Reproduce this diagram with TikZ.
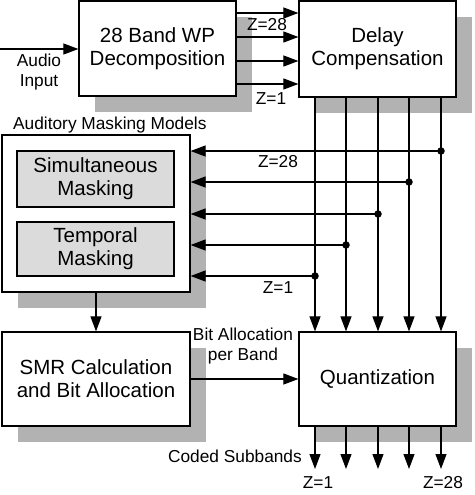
\documentclass[tikz,border=0pt]{standalone}
\usepackage{fontspec}
\setmainfont{Liberation Sans}
\usetikzlibrary{arrows.meta,shadows,calc}
\definecolor{shadowgray}{gray}{0.70}
\definecolor{innergray}{gray}{0.86}
\begin{document}
\begin{tikzpicture}[x=1pt,y=-1pt,
  box/.style={draw,line width=1.2pt,fill=white,align=center,inner sep=0pt,
    font=\fontsize{20.5}{23}\selectfont,
    drop shadow={shadow xshift=16pt,shadow yshift=-16pt,fill=shadowgray,opacity=1}},
  innerbox/.style={draw,line width=1.2pt,fill=innergray,align=center,inner sep=0pt,
    font=\fontsize{20.5}{23}\selectfont},
  lbl/.style={inner sep=0pt,align=center,font=\fontsize{17.3}{20}\selectfont},
  arr/.style={-{Triangle[length=15pt,width=11pt]},line width=1.1pt,draw=black,fill=black},
  dot/.style={circle,fill=black,inner sep=0pt,minimum size=7.5pt}]
\useasboundingbox (0,0) rectangle (474,495);
% boxes
\node[box,minimum width=157pt,minimum height=95pt] (wp) at (157.5,48.5) {28 Band WP\\Decomposition};
\node[box,minimum width=157pt,minimum height=96pt] (delay) at (377.5,49) {Delay\\Compensation};
\node[box,minimum width=188pt,minimum height=157pt] (amm) at (96,213.5) {};
\node[innerbox,minimum width=157pt,minimum height=56pt] (sim) at (95.5,179) {Simultaneous\\Masking};
\node[innerbox,minimum width=157pt,minimum height=54pt] (temp) at (95.5,249) {Temporal\\Masking};
\node[box,minimum width=188pt,minimum height=94pt] (smr) at (96,379) {SMR Calculation\\and Bit Allocation};
\node[box,minimum width=157pt,minimum height=94pt] (quant) at (377.5,379) {Quantization};
% labels
\node[lbl] (audio) at (39,72) {Audio\\Input};
\node[lbl] (zt1) at (267,25) {Z=28};
\node[lbl] (zb1) at (271,99) {Z=1};
\node[lbl,anchor=west] (ammlbl) at (13,125) {Auditory Masking Models};
\node[lbl] (zt2) at (278,162) {Z=28};
\node[lbl] (zb2) at (278,288) {Z=1};
\node[lbl] (bitlbl) at (243,346) {Bit Allocation\\per Band};
\node[lbl,anchor=east] (coded) at (302,456) {Coded Subbands};
\node[lbl] (zo1) at (318,483) {Z=1};
\node[lbl] (zo28) at (443,483) {Z=28};
% input
\coordinate (in) at (0,49);
\draw[arr] (in) -- (wp.west |- in);
% wp -> delay
\foreach \y in {13,37,61,84}{
  \draw[arr] (wp.east |- 0,\y) -- (delay.west |- 0,\y);
}
% delay -> quant
\foreach \x in {315,346,378,409,441}{
  \draw[arr] (\x,0 |- delay.south) -- (\x,0 |- quant.north);
}
% dots and feedback to amm
\node[dot] (d1) at (315,276) {};
\node[dot] (d2) at (346,245) {};
\node[dot] (d3) at (378,214) {};
\node[dot] (d4) at (409,182) {};
\node[dot] (d5) at (441,151) {};
\foreach \d in {d1,d2,d3,d4,d5}{
  \draw[arr] (\d.center) -- (amm.east |- \d.center);
}
% amm -> smr
\draw[arr] (amm.south) -- (smr.north);
% smr -> quant
\draw[arr] (smr.east) -- (quant.west);
% outputs
\foreach \x in {315,346,378,409,441}{
  \coordinate (o\x) at (\x,469);
  \draw[arr] (\x,0 |- quant.south) -- (o\x);
}
\end{tikzpicture}
\end{document}
